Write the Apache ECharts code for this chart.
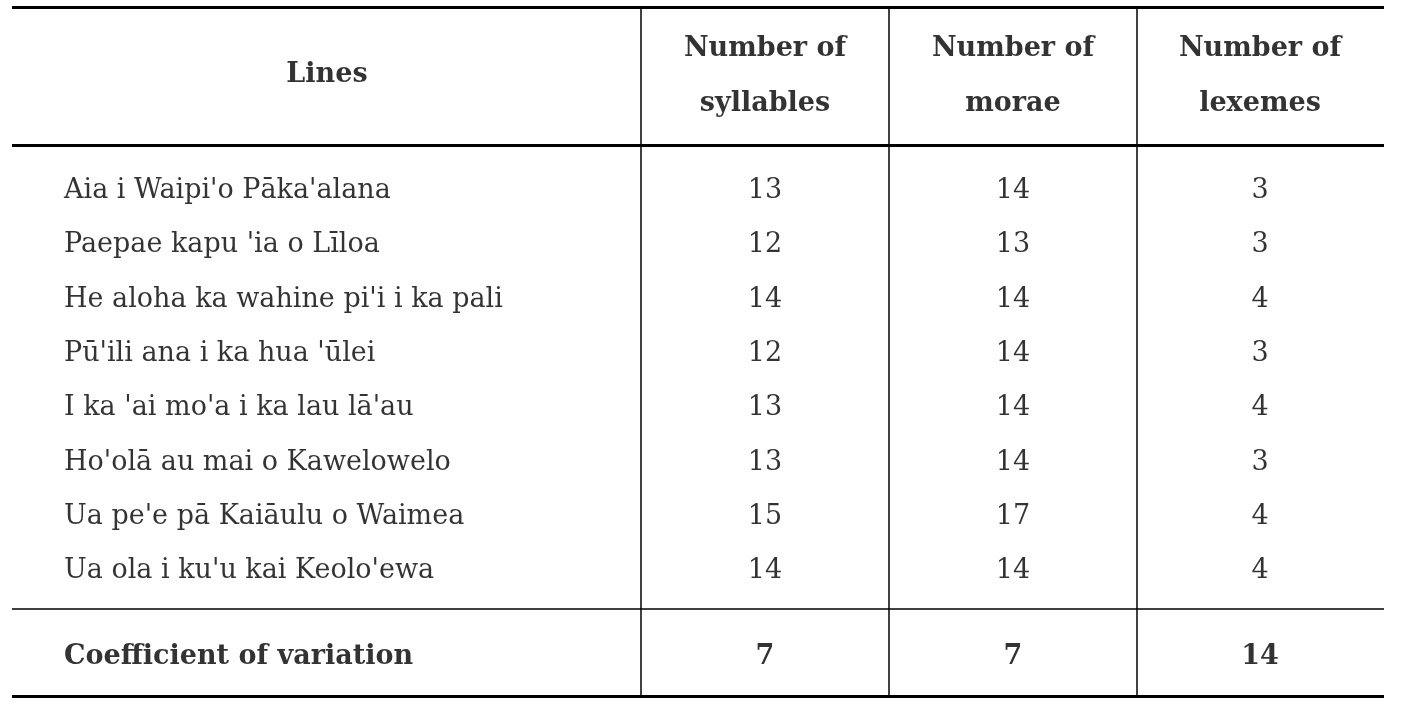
<!DOCTYPE html>
<html><head><meta charset="utf-8">
<script src="https://cdn.jsdelivr.net/npm/echarts@6/dist/echarts.min.js"></script>
<style>html,body{margin:0;background:#fff}#c{width:1401px;height:708px}</style>
</head><body><div id="c"></div>
<script>
// ── Data ──
const headers = [['Lines'], ['Number of', 'syllables'], ['Number of', 'morae'], ['Number of', 'lexemes']];
const lines = [
  "Aia i Waipi'o Pāka'alana",
  "Paepae kapu 'ia o Līloa",
  "He aloha ka wahine pi'i i ka pali",
  "Pū'ili ana i ka hua 'ūlei",
  "I ka 'ai mo'a i ka lau lā'au",
  "Ho'olā au mai o Kawelowelo",
  "Ua pe'e pā Kaiāulu o Waimea",
  "Ua ola i ku'u kai Keolo'ewa",
];
const syllables = [13, 12, 14, 12, 13, 13, 15, 14];
const morae = [14, 13, 14, 14, 14, 14, 17, 14];
const lexemes = [3, 3, 4, 3, 4, 3, 4, 4];
const footerLabel = 'Coefficient of variation';
const footerValues = [7, 7, 14];

// ── Layout (pixel space of the grid) ──
const L = 12, R = 1384;
const colX = [641, 889, 1137];
const colCenter = [327, 765, 1013, 1260];
const textLeft = 64;
const rowTop = 191, rowStep = 54.3;
const topY = 7, headY = 145, footY = 609, botY = 696, footRow = 657;
const FONT = 'DejaVu Serif';
const FS = 27;

const chart = echarts.init(document.getElementById('c'));

const cells = [];
headers.forEach((h, c) => {
  if (h.length === 1) cells.push({ value: [colCenter[c], 75], t: h[0], b: true, a: 'center' });
  else h.forEach((s, k) => cells.push({ value: [colCenter[c], 49 + k * 55], t: s, b: true, a: 'center' }));
});
lines.forEach((s, i) => {
  const y = rowTop + rowStep * i;
  cells.push({ value: [textLeft, y], t: s, a: 'left' });
  [syllables, morae, lexemes].forEach((arr, c) =>
    cells.push({ value: [colCenter[c + 1], y], t: String(arr[i]), a: 'center' }));
});
cells.push({ value: [textLeft, footRow], t: footerLabel, b: true, a: 'left' });
footerValues.forEach((v, c) => cells.push({ value: [colCenter[c + 1], footRow], t: String(v), b: true, a: 'center' }));

const seg = (x1, y1, x2, y2, w) => ({ coords: [[x1, y1], [x2, y2]], lineStyle: { width: w, color: '#000', opacity: 1 } });
const rules = [
  seg(L, topY, R, topY, 3), seg(L, headY, R, headY, 3),
  seg(L, footY, R, footY, 1.5), seg(L, botY, R, botY, 3),
  ...colX.map(x => seg(x, topY, x, botY, 1.5)),
];

chart.setOption({
  animation: false,
  grid: { left: 0, right: 0, top: 0, bottom: 0 },
  xAxis: { type: 'value', min: 0, max: 1401, show: false },
  yAxis: { type: 'value', min: 0, max: 708, inverse: true, show: false },
  series: [
    {
      type: 'lines', coordinateSystem: 'cartesian2d', polyline: false,
      silent: true, lineStyle: { opacity: 1 }, data: rules,
    },
    {
      type: 'scatter', symbolSize: 0, silent: true,
      data: cells.map(d => ({
        value: d.value,
        label: {
          show: true, position: 'inside', formatter: d.t, align: d.a, verticalAlign: 'middle',
          fontFamily: FONT, fontSize: FS, color: '#000', fontWeight: d.b ? 'bold' : 'normal',
        },
      })),
    },
  ],
});
</script></body></html>
